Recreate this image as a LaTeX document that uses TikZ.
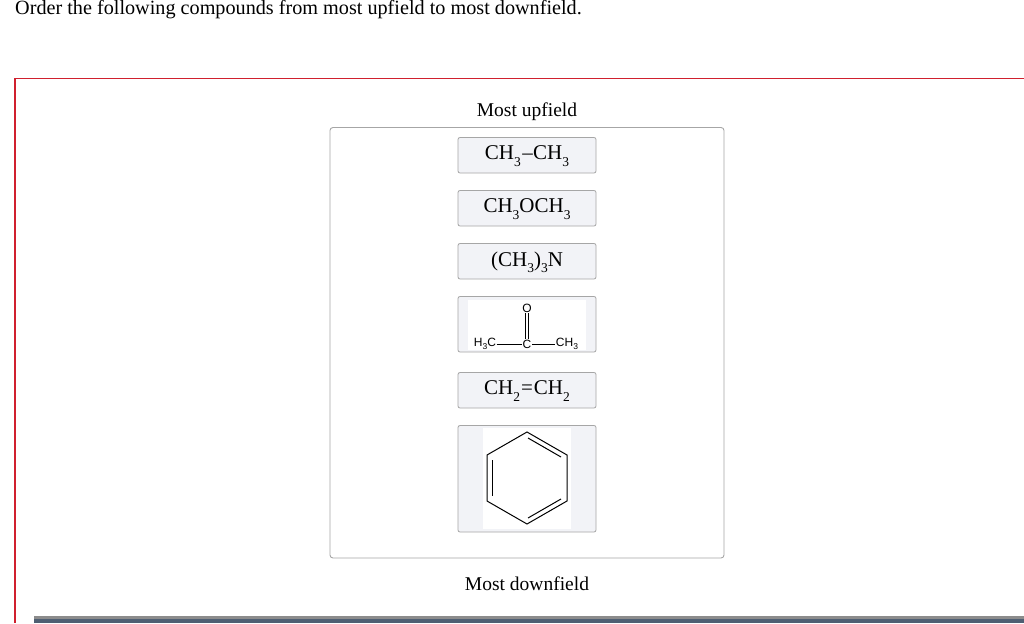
\documentclass[tikz,border=0pt]{standalone}
\usepackage{fontspec}
\setmainfont{Liberation Serif}
\newfontfamily\sansf{Liberation Sans}
\newcommand{\sbs}[1]{\raisebox{-0.3em}{\fontsize{13.5}{14}\selectfont #1}}
\newcommand{\ssbs}[1]{\raisebox{-0.25em}{\fontsize{8.5}{9}\selectfont #1}}
\begin{document}
\begin{tikzpicture}[x=1pt,y=-1pt,
  cbox/.style={draw=black!35,fill=boxgray,rounded corners=2pt,line width=0.8pt},
  ftxt/.style={font=\fontsize{21}{23}\selectfont,inner sep=0pt},
  lbl/.style={font=\fontsize{19.5}{21}\selectfont,inner sep=0pt},
  stxt/.style={font=\sansf\fontsize{12}{13}\selectfont,inner sep=0.5pt}]
\definecolor{boxgray}{HTML}{F2F3F7}
\definecolor{redf}{HTML}{D0202E}
\definecolor{barc}{HTML}{4F5F73}
\useasboundingbox (0,0) rectangle (1024,623);
\fill[white] (0,0) rectangle (1024,623);
\node[lbl,anchor=west,font=\fontsize{20.2}{22}\selectfont] (title) at (15,10) {Order the following compounds from most upfield to most downfield.};
\draw[redf,line width=1.5pt] (15,623) -- (15,78.5) -- (1024,78.5);
\fill[black!45] (34,616) rectangle (1024,623);
\fill[barc] (34,618.5) rectangle (1024,623);
\node[lbl] (up) at (527,112) {Most upfield};
\node[lbl] (down) at (527,584) {Most downfield};
\draw[draw=black!35,rounded corners=3pt,line width=0.9pt] (330,127.5) rectangle (724,558);
\draw[cbox] (458,137.5) rectangle (596,173);
\node[ftxt] (c1) at (527,156) {CH\sbs{3}\kern1.5pt--\kern0.5ptCH\sbs{3}};
\draw[cbox] (458,190.5) rectangle (596,226);
\node[ftxt] (c2) at (527,209) {CH\sbs{3}OCH\sbs{3}};
\draw[cbox] (458,243.5) rectangle (596,279);
\node[ftxt] (c3) at (527,262) {(CH\sbs{3})\sbs{3}N};
\draw[cbox] (458,296.5) rectangle (596,352);
\fill[white] (468,300) rectangle (586,350);
\node[stxt] (m1) at (485,344) {H\ssbs{3}C};
\node[stxt] (cc) at (527,344) {C};
\node[stxt] (m2) at (567,344) {CH\ssbs{3}};
\node[stxt] (ox) at (527,308) {O};
\draw[line width=0.7pt] (m1.east) -- (cc.west) (cc.east) -- (m2.west);
\draw[line width=0.7pt] ([xshift=-1.8pt]cc.north) -- ([xshift=-1.8pt]ox.south) ([xshift=1.8pt]cc.north) -- ([xshift=1.8pt]ox.south);
\draw[cbox] (458,372.5) rectangle (596,408);
\node[ftxt] (c5) at (527,391) {CH\sbs{2}\kern1pt=\kern1ptCH\sbs{2}};
\draw[cbox] (458,425.5) rectangle (596,532);
\fill[white] (483,428) rectangle (571,529);
\coordinate (bz) at (527,478);
\draw[line width=1pt,line join=miter] (527,432) -- (567,455) -- (567,501) -- (527,524) -- (487,501) -- (487,455) -- cycle;
\draw[line width=1pt] (492,460) -- (492,496);
\draw[line width=1pt] (528,438) -- (561,457);
\draw[line width=1pt] (528,518) -- (561,499);
\end{tikzpicture}
\end{document}
